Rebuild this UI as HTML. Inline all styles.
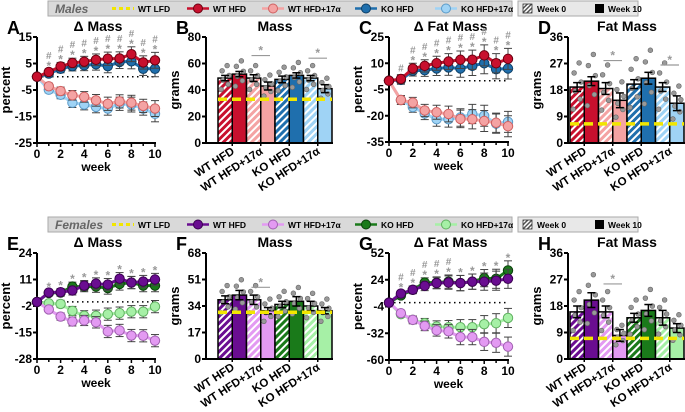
<!DOCTYPE html>
<html><head><meta charset="utf-8">
<style>
html,body{margin:0;padding:0;background:#fff;}
svg{display:block;font-family:"Liberation Sans",Arial,sans-serif;}
</style></head>
<body>
<svg id="fig" width="685" height="412" viewBox="0 0 685 412" xmlns="http://www.w3.org/2000/svg">
<defs>
<pattern id="h-red" patternUnits="userSpaceOnUse" width="5" height="5" patternTransform="rotate(45)"><rect width="5" height="5" fill="#c8102e"/><rect width="2" height="5" fill="#fff"/></pattern>
<pattern id="h-pink" patternUnits="userSpaceOnUse" width="5" height="5" patternTransform="rotate(45)"><rect width="5" height="5" fill="#f4a3a3"/><rect width="2" height="5" fill="#fff"/></pattern>
<pattern id="h-blue" patternUnits="userSpaceOnUse" width="5" height="5" patternTransform="rotate(45)"><rect width="5" height="5" fill="#1f6fad"/><rect width="2" height="5" fill="#fff"/></pattern>
<pattern id="h-lblue" patternUnits="userSpaceOnUse" width="5" height="5" patternTransform="rotate(45)"><rect width="5" height="5" fill="#9fd3f5"/><rect width="2" height="5" fill="#fff"/></pattern>
<pattern id="h-purple" patternUnits="userSpaceOnUse" width="5" height="5" patternTransform="rotate(45)"><rect width="5" height="5" fill="#6a0d91"/><rect width="2" height="5" fill="#fff"/></pattern>
<pattern id="h-lpurple" patternUnits="userSpaceOnUse" width="5" height="5" patternTransform="rotate(45)"><rect width="5" height="5" fill="#e39af2"/><rect width="2" height="5" fill="#fff"/></pattern>
<pattern id="h-green" patternUnits="userSpaceOnUse" width="5" height="5" patternTransform="rotate(45)"><rect width="5" height="5" fill="#1a7a1a"/><rect width="2" height="5" fill="#fff"/></pattern>
<pattern id="h-lgreen" patternUnits="userSpaceOnUse" width="5" height="5" patternTransform="rotate(45)"><rect width="5" height="5" fill="#a6f0a6"/><rect width="2" height="5" fill="#fff"/></pattern>
<pattern id="h-gray" patternUnits="userSpaceOnUse" width="3" height="3" patternTransform="rotate(45)"><rect width="3" height="3" fill="#fff"/><rect width="1.5" height="3" fill="#555"/></pattern>
</defs>
</svg>
<script>
// ---------- data ----------
const weeks = [0,1,2,3,4,5,6,7,8,9,10];
// Panel A (male Δ mass, %)
const aWT = [0,1.8,3.9,5.2,5.7,6.4,6.8,6.9,8.5,5.4,6.2];
const aKO = [0,1.2,3,4,4.3,4.7,4,5.6,5.8,3,3];
const aWT17 = [0,-3.6,-5.4,-7,-7.6,-8.9,-10.2,-9.3,-9.8,-11,-12];
const aKO17 = [0,-4.9,-6.8,-9.8,-10.5,-11.4,-12,-10.2,-10.5,-12,-14];
const aErr = [0,1.2,1.5,1.8,2,2.2,2.5,2.5,2.8,2.5,3];
const aTicks = [15,5,-5,-15,-25];
// Panel C (male Δ fat mass, %)
const cWT = [0,1,7,8.5,10,11,12,12,14.5,10,12.5];
const cKO = [0,0.5,5.7,6,7,7.6,7,8.5,10,6.6,7];
const cWT17 = [0,-11,-12.5,-17,-18,-19,-21.8,-22,-23,-24,-26];
const cKO17 = [0,-11,-15,-18.7,-22,-22,-21,-19,-20,-24.5,-23.5];
const cErr = [0,2.5,3,3.5,4,4.5,5,5.5,6,5.5,6];
const cTicks = [25,10,-5,-20,-35];
// Panel E (female Δ mass, %)
const eWT = [0,4.6,4.8,5.6,8,9,8.5,11.4,9.5,10,11];
const eKO = [0,4.4,4.6,7.5,7.5,7.5,6.8,8.8,9.5,8,8];
const eWT17 = [0,-3.7,-7.2,-9.6,-9.1,-10,-14.5,-14,-16.5,-16.6,-19];
const eKO17 = [0,-0.7,-1,-4.4,-6.8,-6.8,-6,-5.5,-4.8,-4.8,-2.3];
const eErr = [0,1.2,1.8,2.2,2.5,2.8,3,3,3,3,3];
const eTicks = [24,11,-2,-15,-28];
// Panel G (female Δ fat mass, %)
const gWT = [0,9.5,13.5,17.6,20.5,21,20.5,22,22,23,25];
const gKO = [0,7.6,13.5,21,21,22,20.5,22,25.7,25,33.8];
const gWT17 = [0,-11,-18,-24.3,-29,-30,-36,-36,-41,-42,-46];
const gKO17 = [0,-12,-18,-21.5,-25,-25.7,-25.7,-25.7,-22.5,-21.5,-16];
const gErr = [0,3,4,5,6,7,8,8,9,10,10];
const gTicks = [52,24,-4,-32,-60];
// Bar panels: [WT HFD wk0, wk10, WT+17α wk0, wk10, KO HFD wk0, wk10, KO+17α wk0, wk10]
const barCats = ["WT HFD","WT HFD+17α","KO HFD","KO HFD+17α"];
const bMass = [49,52,49,43,48,51,49,41];
const bErr = [2,2,2.5,3,2.5,2,2,3];
const bLFD = 33;
const bTicks = [0,20,40,60,80];
const dFat = [19,21,18.5,14.5,20,22,19,13.5];
const dErr = [1.5,1.5,2,2.5,1.5,2,1.5,2.5];
const dLFD = 6.5;
const dTicks = [0,9,18,27,36];
const fMass = [38,41,38,31,35,37,34,31];
const fErr = [2.5,3,3,2,2,3,3,2];
const fLFD = 30;
const fTicks = [0,17,34,51,68];
const hFat = [16,20,16,8,14,16.5,14,10.5];
const hErr = [2,2.5,2,2,1.5,2,2.5,1.5];
const hLFD = 7;
const hTicks = [0,9,18,27,36];
// ---------- helpers ----------
const NS="http://www.w3.org/2000/svg";
const svg=document.getElementById('fig');
function mk(tag,attrs,parent,text){const e=document.createElementNS(NS,tag);for(const k in attrs)e.setAttribute(k,attrs[k]);if(text!==undefined)e.textContent=text;(parent||svg).appendChild(e);return e;}
const dotOff=[-0.22,-0.12,-0.04,0.05,0.14,0.24];
const dotDx=[-4,3,-2,4,-3,2];

function linePanel(o){
  const g=mk('g',{});
  
  
  const ys=v=>o.yTop+(o.ticks[0]-v)/(o.ticks[0]-o.ticks[o.ticks.length-1])*(o.yBot-o.yTop);
  const xs=w=>o.x0+w/10*(o.x1-o.x0);
  const ya=mk('line',{x1:o.x0,y1:o.yTop,x2:o.x0,y2:o.yBot+1,stroke:'#000','stroke-width':2},g);
  
  const xa=mk('line',{x1:o.x0-1,y1:o.yBot,x2:o.x1+1,y2:o.yBot,stroke:'#000','stroke-width':2},g);
  
  o.ticks.forEach(t=>{const y=ys(t);mk('line',{x1:o.x0-4,y1:y,x2:o.x0,y2:y,stroke:'#000','stroke-width':2},g);
    const tl=mk('text',{x:o.x0-5,y:y+4,'text-anchor':'end','font-size':12,'font-weight':'bold'},g,String(t));
    });
  for(let w=0;w<=10;w++){const x=xs(w);mk('line',{x1:x,y1:o.yBot,x2:x,y2:o.yBot+(w%2?3:4),stroke:'#000','stroke-width':1.5},g);
    if(w%2===0){const tl=mk('text',{x:x,y:o.yBot+15,'text-anchor':'middle','font-size':12,'font-weight':'bold'},g,String(w));
      }}
  const xt=mk('text',{x:(o.x0+o.x1)/2,y:o.yBot+28,'text-anchor':'middle','font-size':12,'font-weight':'bold'},g,'week');
  
  const yt=mk('text',{x:0,y:0,'text-anchor':'middle','font-size':13,'font-weight':'bold',transform:`translate(${o.x0-27},${(o.yTop+o.yBot)/2}) rotate(-90)`},g,'percent');
  
  const ti=mk('text',{x:(o.x0+o.x1)/2+2,y:o.yTop-6,'text-anchor':'middle','font-size':14,'font-weight':'bold'},g,o.title);
  
  const lt=mk('text',{x:o.x0-30,y:o.yTop-3,'font-size':18,'font-weight':'bold'},g,o.letter);
  
  const dl=mk('line',{x1:o.x0,y1:ys(0),x2:o.x1,y2:ys(0),stroke:'#000','stroke-width':1.5,'stroke-dasharray':'1.5,3.5'},g);
  
  o.series.forEach(s=>{
    const sg=mk('g',{},g);
    
    s.data.forEach((v,i)=>{if(i===0)return;const x=xs(weeks[i]);const e=o.err[i];
      mk('line',{x1:x,y1:ys(v+e),x2:x,y2:ys(v-e),stroke:'#444','stroke-width':1},sg);
      mk('line',{x1:x-4,y1:ys(v+e),x2:x+4,y2:ys(v+e),stroke:'#444','stroke-width':1},sg);
      mk('line',{x1:x-4,y1:ys(v-e),x2:x+4,y2:ys(v-e),stroke:'#444','stroke-width':1},sg);});
    mk('polyline',{points:s.data.map((v,i)=>xs(weeks[i])+','+ys(v)).join(' '),fill:'none',stroke:s.line,'stroke-width':3},sg);
    s.data.forEach((v,i)=>{const c=mk('circle',{cx:xs(weeks[i]),cy:ys(v),r:4.7,fill:s.fill,stroke:s.stroke,'stroke-width':1},sg);
      });
  });
  for(let w=1;w<=10;w++){const x=xs(w);let top=Math.max(...o.series.map(s=>s.data[w]))+o.err[w];const y=ys(top)-3;
    if(o.star[w-1]){const t=mk('text',{x:x,y:y+4,'text-anchor':'middle','font-size':12,'font-weight':'bold',fill:'#999'},g,'*');}
    if(o.hash[w-1]){const t=mk('text',{x:x,y:y-(o.star[w-1]?7:0),'text-anchor':'middle','font-size':10,'font-weight':'bold',fill:'#999'},g,'#');}}
}

function barPanel(o){
  const g=mk('g',{});
  
  
  const max=o.ticks[o.ticks.length-1];
  const ys=v=>o.yBot-v/max*(o.yBot-o.yTop);
  o.vals.forEach((v,i)=>{const grp=Math.floor(i/2);const x=o.bx+grp*o.gw+(i%2)*o.bw;
    const r=mk('rect',{x:x,y:ys(v),width:o.bw,height:o.yBot-ys(v),fill:(i%2?o.colors[grp]:'url(#'+o.hatch[grp]+')'),stroke:'#000','stroke-width':1.5},g);
    
  });
  o.vals.forEach((v,i)=>{const grp=Math.floor(i/2);const x=o.bx+grp*o.gw+(i%2)*o.bw;const cx=x+o.bw/2;
    dotOff.forEach((d,k)=>{const dv=v*(1+d*o.spread);const c=mk('circle',{cx:cx+dotDx[k],cy:ys(dv),r:2.4,fill:'#999',stroke:'#666','stroke-width':0.6},g);
      });
    const e=o.err[i];
    mk('line',{x1:cx,y1:ys(v+e),x2:cx,y2:ys(v-e),stroke:'#000','stroke-width':1.5},g);
    mk('line',{x1:cx-4,y1:ys(v+e),x2:cx+4,y2:ys(v+e),stroke:'#000','stroke-width':1.5},g);
    mk('line',{x1:cx-4,y1:ys(v-e),x2:cx+4,y2:ys(v-e),stroke:'#000','stroke-width':1.5},g);
  });
  const lf=mk('line',{x1:o.bx,y1:ys(o.lfd),x2:o.bx+4*o.gw,y2:ys(o.lfd),stroke:'#f2e600','stroke-width':3.5,'stroke-dasharray':'9,5'},g);
  
  o.sig.forEach(s=>{const x=o.bx+s.g*o.gw;const y=ys(s.v);
    const l=mk('line',{x1:x+5,y1:y,x2:x+o.gw-5,y2:y,stroke:'#999','stroke-width':1.2},g);
    
    const t=mk('text',{x:x+o.gw/2,y:y-1,'text-anchor':'middle','font-size':12,'font-weight':'bold',fill:'#999'},g,'*');
    });
  const ya=mk('line',{x1:o.x0,y1:o.yTop,x2:o.x0,y2:o.yBot+1,stroke:'#000','stroke-width':2},g);
  
  const xa=mk('line',{x1:o.x0-1,y1:o.yBot,x2:o.bx+4*o.gw+1,y2:o.yBot,stroke:'#000','stroke-width':2},g);
  
  o.ticks.forEach(t=>{const y=ys(t);mk('line',{x1:o.x0-4,y1:y,x2:o.x0,y2:y,stroke:'#000','stroke-width':2},g);
    const tl=mk('text',{x:o.x0-5,y:y+4,'text-anchor':'end','font-size':12,'font-weight':'bold'},g,String(t));
    });
  barCats.forEach((c,k)=>{const cx=o.bx+k*o.gw+o.bw;mk('line',{x1:cx,y1:o.yBot,x2:cx,y2:o.yBot+3,stroke:'#000','stroke-width':1.5},g);
    const tl=mk('text',{x:0,y:0,'text-anchor':'end','font-size':11.5,'font-weight':'bold',transform:`translate(${cx+3},${o.yBot+10}) rotate(-33)`},g,c);
    });
  const yt=mk('text',{x:0,y:0,'text-anchor':'middle','font-size':13,'font-weight':'bold',transform:`translate(${o.x0-27},${(o.yTop+o.yBot)/2}) rotate(-90)`},g,'grams');
  
  const ti=mk('text',{x:o.bx+2*o.gw,y:o.yTop-6,'text-anchor':'middle','font-size':14,'font-weight':'bold'},g,o.title);
  
  const lt=mk('text',{x:o.x0-30,y:o.yTop-3,'font-size':18,'font-weight':'bold'},g,o.letter);
  
}

function legend(y,sex,c){
  const g=mk('g',{});
  
  
  mk('rect',{x:48,y:y,width:464,height:15,fill:'#d9d9d9',stroke:'#aaa','stroke-width':1},g);
  const s=mk('text',{x:55,y:y+12,'font-size':12,'font-weight':'bold','font-style':'italic',fill:'#666'},g,sex);
  
  const my=y+7.5;
  mk('line',{x1:112,y1:my,x2:134,y2:my,stroke:'#f2e600','stroke-width':3,'stroke-dasharray':'4,3'},g);
  const items=[[187,'WT HFD',c[0],c[1]],[262,'WT HFD+17α',c[2],c[3]],[355,'KO HFD',c[4],c[5]],[435,'KO HFD+17α',c[6],c[7]]];
  const t0=mk('text',{x:138,y:y+11,'font-size':8.5,'font-weight':'bold'},g,'WT LFD');
  
  items.forEach(it=>{mk('line',{x1:it[0],y1:my,x2:it[0]+22,y2:my,stroke:it[2],'stroke-width':2.5},g);
    mk('circle',{cx:it[0]+11,cy:my,r:4.5,fill:it[2],stroke:it[3],'stroke-width':1},g);
    const t=mk('text',{x:it[0]+26,y:y+11,'font-size':8.5,'font-weight':'bold'},g,it[1]);
    });
  const w=mk('g',{},svg);
  
  mk('rect',{x:518,y:y,width:120,height:15,fill:'#e8e8e8',stroke:'#aaa','stroke-width':1},w);
  mk('rect',{x:523,y:y+3,width:9,height:9,fill:'url(#h-gray)',stroke:'#333','stroke-width':0.8},w);
  mk('text',{x:537,y:y+11,'font-size':8.5,'font-weight':'bold'},w,'Week 0');
  mk('rect',{x:595,y:y+3,width:9,height:9,fill:'#000'},w);
  mk('text',{x:608,y:y+11,'font-size':8.5,'font-weight':'bold'},w,'Week 10');
}

legend(1,'Males',['#c8102e','#6a0010','#f4a3a3','#d06060','#1f6fad','#0d3f66','#9fd3f5','#5a9ac8']);
legend(217,'Females',['#6a0d91','#3a0050','#e39af2','#a060b0','#1a7a1a','#0a400a','#a6f0a6','#60b060']);

const allT=[1,1,1,1,1,1,1,1,1,1];
linePanel({name:'panel-a-male-delta-mass',letter:'A',title:'Δ Mass',x0:37,x1:155,yTop:37,yBot:143,ticks:aTicks,err:aErr,star:allT,hash:allT,
  series:[{name:'series-ko-hfd17',data:aKO17,line:'#9fd3f5',fill:'#9fd3f5',stroke:'#5a9ac8'},{name:'series-wt-hfd17',data:aWT17,line:'#f4a3a3',fill:'#f4a3a3',stroke:'#d06060'},
          {name:'series-ko-hfd',data:aKO,line:'#1f6fad',fill:'#1f6fad',stroke:'#0d3f66'},{name:'series-wt-hfd',data:aWT,line:'#c8102e',fill:'#c8102e',stroke:'#6a0010'}]});
linePanel({name:'panel-c-male-delta-fat',letter:'C',title:'Δ Fat Mass',x0:389,x1:508,yTop:37,yBot:142,ticks:cTicks,err:cErr,star:[0,1,1,1,1,1,1,1,1,1],hash:allT,
  series:[{name:'series-ko-hfd17',data:cKO17,line:'#9fd3f5',fill:'#9fd3f5',stroke:'#5a9ac8'},{name:'series-wt-hfd17',data:cWT17,line:'#f4a3a3',fill:'#f4a3a3',stroke:'#d06060'},
          {name:'series-ko-hfd',data:cKO,line:'#1f6fad',fill:'#1f6fad',stroke:'#0d3f66'},{name:'series-wt-hfd',data:cWT,line:'#c8102e',fill:'#c8102e',stroke:'#6a0010'}]});
linePanel({name:'panel-e-female-delta-mass',letter:'E',title:'Δ Mass',x0:37,x1:155,yTop:253,yBot:359,ticks:eTicks,err:eErr,star:allT,hash:[0,0,0,0,0,0,0,0,0,0],
  series:[{name:'series-ko-hfd17',data:eKO17,line:'#a6f0a6',fill:'#a6f0a6',stroke:'#60b060'},{name:'series-wt-hfd17',data:eWT17,line:'#e39af2',fill:'#e39af2',stroke:'#a060b0'},
          {name:'series-ko-hfd',data:eKO,line:'#1a7a1a',fill:'#1a7a1a',stroke:'#0a400a'},{name:'series-wt-hfd',data:eWT,line:'#6a0d91',fill:'#6a0d91',stroke:'#3a0050'}]});
linePanel({name:'panel-g-female-delta-fat',letter:'G',title:'Δ Fat Mass',x0:389,x1:508,yTop:253,yBot:360,ticks:gTicks,err:gErr,star:allT,hash:[1,1,1,1,1,0,0,0,0,0],
  series:[{name:'series-ko-hfd17',data:gKO17,line:'#a6f0a6',fill:'#a6f0a6',stroke:'#60b060'},{name:'series-wt-hfd17',data:gWT17,line:'#e39af2',fill:'#e39af2',stroke:'#a060b0'},
          {name:'series-ko-hfd',data:gKO,line:'#1a7a1a',fill:'#1a7a1a',stroke:'#0a400a'},{name:'series-wt-hfd',data:gWT,line:'#6a0d91',fill:'#6a0d91',stroke:'#3a0050'}]});

const mCol=['#c8102e','#f4a3a3','#1f6fad','#9fd3f5'],mH=['h-red','h-pink','h-blue','h-lblue'];
const fCol=['#6a0d91','#e39af2','#1a7a1a','#a6f0a6'],fH=['h-purple','h-lpurple','h-green','h-lgreen'];
barPanel({name:'panel-b-male-mass',letter:'B',title:'Mass',x0:206,bx:218,gw:28.5,bw:14.25,yTop:37,yBot:143,ticks:bTicks,vals:bMass,err:bErr,lfd:bLFD,colors:mCol,hatch:mH,spread:0.8,sig:[{g:1,v:66},{g:3,v:64}]});
barPanel({name:'panel-d-male-fat',letter:'D',title:'Fat Mass',x0:568,bx:570,gw:28.5,bw:14.25,yTop:37,yBot:143,ticks:dTicks,vals:dFat,err:dErr,lfd:dLFD,colors:mCol,hatch:mH,spread:1.8,sig:[{g:1,v:28},{g:3,v:26.5}]});
barPanel({name:'panel-f-female-mass',letter:'F',title:'Mass',x0:206,bx:218,gw:28.5,bw:14.25,yTop:253,yBot:359,ticks:fTicks,vals:fMass,err:fErr,lfd:fLFD,colors:fCol,hatch:fH,spread:1.0,sig:[{g:1,v:46}]});
barPanel({name:'panel-h-female-fat',letter:'H',title:'Fat Mass',x0:568,bx:570,gw:28.5,bw:14.25,yTop:253,yBot:359,ticks:hTicks,vals:hFat,err:hErr,lfd:hLFD,colors:fCol,hatch:fH,spread:1.8,sig:[{g:1,v:25.5}]});
</script>
</body></html>
